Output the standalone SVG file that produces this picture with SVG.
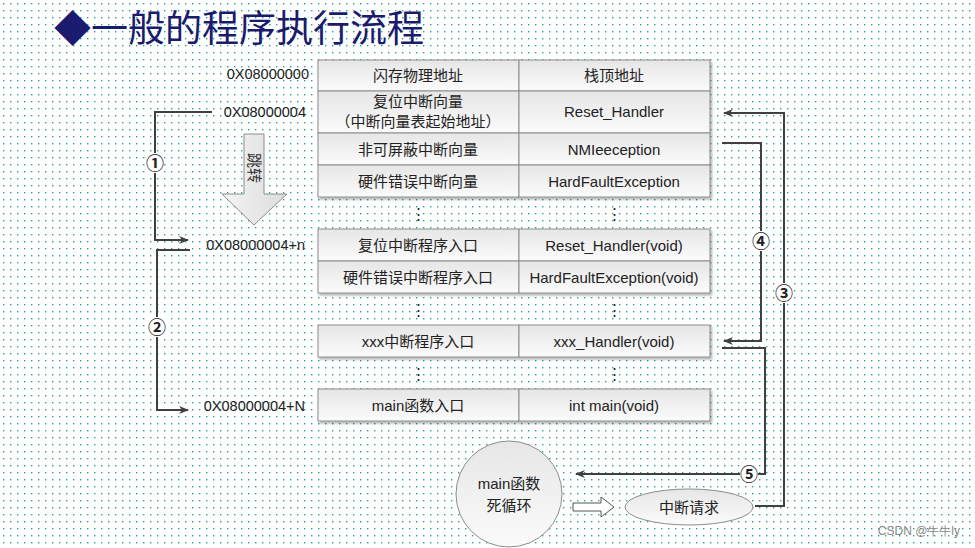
<svg xmlns="http://www.w3.org/2000/svg" width="975" height="548" viewBox="0 0 975 548">
<defs>
<pattern id="dots" width="7" height="7" patternUnits="userSpaceOnUse"><rect x="3" y="3" width="1.4" height="1.4" fill="#2aa198"/></pattern>
<linearGradient id="cg" x1="0" y1="0" x2="0" y2="1"><stop offset="0" stop-color="#e6e6e6"/><stop offset="1" stop-color="#fbfbfb"/></linearGradient>
<linearGradient id="ag" x1="0" y1="0" x2="1" y2="0"><stop offset="0" stop-color="#f4f4f4"/><stop offset="1" stop-color="#dcdcdc"/></linearGradient>
<marker id="ah" markerWidth="10" markerHeight="8" refX="9" refY="4" orient="auto" markerUnits="userSpaceOnUse"><path d="M0,0 L10,4 L0,8 L3,4 Z" fill="#404040"/></marker>
<filter id="sh" x="-5%" y="-5%" width="110%" height="130%"><feDropShadow dx="1.5" dy="2" stdDeviation="1.2" flood-color="#000" flood-opacity="0.3"/></filter>
</defs>
<style>
.c{fill:url(#cg);stroke:#8c8c8c;stroke-width:1}
.t{font-family:"Liberation Sans","Noto Sans CJK SC",sans-serif;font-size:15px;fill:#222;text-anchor:middle}
.a{font-family:"Liberation Sans",sans-serif;font-size:14.5px;fill:#222;text-anchor:end}
.n{font-family:"Liberation Serif","Noto Sans CJK SC",serif;font-size:18px;font-weight:bold;fill:#222;text-anchor:middle}
.l{fill:none;stroke:#404040;stroke-width:2}
</style>
<rect width="975" height="548" fill="#fff"/>
<rect width="975" height="548" fill="url(#dots)"/>
<text x="54" y="42" font-family="'Noto Sans CJK SC',sans-serif" font-size="37" fill="#1a1a6e">◆一般的程序执行流程</text>

<g id="table" filter="url(#sh)">
<rect class="c" x="318" y="60" width="201" height="31"/><rect class="c" x="519" y="60" width="191" height="31"/>
<rect class="c" x="318" y="91" width="201" height="42"/><rect class="c" x="519" y="91" width="191" height="42"/>
<rect class="c" x="318" y="133" width="201" height="32"/><rect class="c" x="519" y="133" width="191" height="32"/>
<rect class="c" x="318" y="165" width="201" height="32"/><rect class="c" x="519" y="165" width="191" height="32"/>
<rect class="c" x="318" y="229" width="201" height="32"/><rect class="c" x="519" y="229" width="191" height="32"/>
<rect class="c" x="318" y="261" width="201" height="32"/><rect class="c" x="519" y="261" width="191" height="32"/>
<rect class="c" x="318" y="325" width="201" height="32"/><rect class="c" x="519" y="325" width="191" height="32"/>
<rect class="c" x="318" y="389" width="201" height="32"/><rect class="c" x="519" y="389" width="191" height="32"/>
</g>
<g id="texts">
<text class="t" x="418" y="81">闪存物理地址</text><text class="t" x="614" y="81">栈顶地址</text>
<text class="t" x="418" y="107">复位中断向量</text><text class="t" x="418" y="127">（中断向量表起始地址）</text><text class="t" x="614" y="117">Reset_Handler</text>
<text class="t" x="418" y="155">非可屏蔽中断向量</text><text class="t" x="614" y="155">NMIeeception</text>
<text class="t" x="418" y="187">硬件错误中断向量</text><text class="t" x="614" y="187">HardFaultException</text>
<text class="t" x="418" y="219">⋮</text><text class="t" x="614" y="219">⋮</text>
<text class="t" x="418" y="251">复位中断程序入口</text><text class="t" x="614" y="251">Reset_Handler(void)</text>
<text class="t" x="418" y="283">硬件错误中断程序入口</text><text class="t" x="614" y="283">HardFaultException(void)</text>
<text class="t" x="418" y="315">⋮</text><text class="t" x="614" y="315">⋮</text>
<text class="t" x="418" y="347">xxx中断程序入口</text><text class="t" x="614" y="347">xxx_Handler(void)</text>
<text class="t" x="418" y="379">⋮</text><text class="t" x="614" y="379">⋮</text>
<text class="t" x="418" y="411">main函数入口</text><text class="t" x="614" y="411">int main(void)</text>
<text class="a" x="309" y="79">0X08000000</text>
<text class="a" x="306" y="117">0X08000004</text>
<text class="a" x="305" y="250">0X08000004+n</text>
<text class="a" x="305" y="411">0X08000004+N</text>
</g>

<g id="jump">
<path d="M244,134 H264 V194 H287 L254,225 L222,194 H244 Z" fill="url(#ag)" stroke="#8c8c8c"/>
<text x="0" y="0" transform="translate(249,168) rotate(90)" font-family="'Noto Sans CJK SC',sans-serif" font-size="15" fill="#333" text-anchor="middle">跳转</text>
</g>

<g id="main-loop">
<circle cx="509" cy="494" r="53" fill="url(#cg)" stroke="#8c8c8c"/>
<text class="t" x="509" y="489">main函数</text><text class="t" x="509" y="511">死循环</text>
</g>
<g id="irq">
<ellipse cx="689" cy="507" rx="64" ry="18" fill="url(#cg)" stroke="#8c8c8c"/>
<text class="t" x="689" y="513">中断请求</text>
</g>
<path d="M573,503 H601 V497 L614,507 L601,517 V511 H573 Z" fill="#fff" stroke="#555"/>

<g id="connectors">
<path class="l" d="M212,112 H155 V240 H188" marker-end="url(#ah)"/>
<path class="l" d="M190,250 H157 V410 H188" marker-end="url(#ah)"/>
<path class="l" d="M722,143 H761 V341 H724" marker-end="url(#ah)"/>
<path class="l" d="M755,506 H784 V113 H724" marker-end="url(#ah)"/>
<path class="l" d="M722,348 H765 V474 H576" marker-end="url(#ah)"/>
<g fill="#fff">
<rect x="146" y="153" width="18" height="20"/><rect x="148" y="317" width="18" height="20"/>
<rect x="752" y="231" width="18" height="20"/><rect x="775" y="283" width="18" height="20"/><rect x="740" y="464" width="18" height="20"/>
</g>
<text class="n" x="155" y="170">①</text><text class="n" x="157" y="334">②</text>
<text class="n" x="761" y="248">④</text><text class="n" x="784" y="300">③</text><text class="n" x="749" y="481">⑤</text>
</g>
<text x="960" y="535" font-family="'Liberation Sans',sans-serif" font-size="12" fill="#888" text-anchor="end">CSDN @牛牛ly</text>
</svg>
